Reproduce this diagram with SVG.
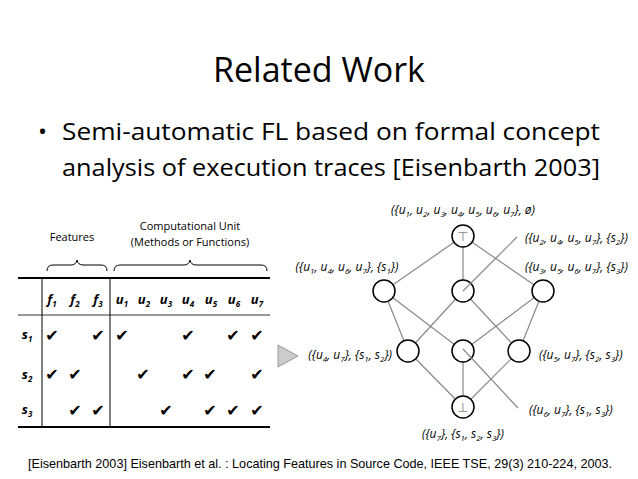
<svg xmlns="http://www.w3.org/2000/svg" width="638" height="479" viewBox="0 0 638 479">
<style>
text{font-family:"Open Sans","DejaVu Sans",sans-serif;fill:#000}
.t{font-size:12px;font-style:italic}
.h{font-size:13px;font-style:italic;font-weight:bold;text-anchor:middle}
.c{font-size:16px;text-anchor:middle}
.e{stroke:#888;stroke-width:1.2;fill:none}
.n{fill:#fff;stroke:#000;stroke-width:1.5}
.s{font-size:11px}
</style>
<rect width="638" height="479" fill="#fff"/>
<text x="319" y="82" font-size="34" text-anchor="middle">Related Work</text>
<text x="38" y="140" font-size="24">•</text>
<text x="62" y="140" font-size="24" textLength="538" lengthAdjust="spacingAndGlyphs">Semi-automatic FL based on formal concept</text>
<text x="62" y="176" font-size="24" textLength="538" lengthAdjust="spacingAndGlyphs">analysis of execution traces [Eisenbarth 2003]</text>
<g id="table">
<text x="72" y="241" class="s" text-anchor="middle">Features</text>
<text x="190" y="230" class="s" text-anchor="middle">Computational Unit</text>
<text x="190" y="246" class="s" text-anchor="middle">(Methods or Functions)</text>
<path d="M47,271 Q47,265 53,265 L71,265 Q76,265 77,260 Q78,265 83,265 L101,265 Q107,265 107,271" fill="none" stroke="#000"/>
<path d="M114,271 Q114,265 120,265 L184,265 Q189,265 190,260 Q191,265 196,265 L261,265 Q267,265 267,271" fill="none" stroke="#000"/>
<line x1="18" y1="278" x2="270" y2="278" stroke="#000" stroke-width="2"/>
<line x1="18" y1="315" x2="270" y2="315" stroke="#000" stroke-width="0.8"/>
<line x1="18" y1="427" x2="270" y2="427" stroke="#000" stroke-width="2"/>
<line x1="42" y1="278" x2="42" y2="427" stroke="#000" stroke-width="1"/>
<line x1="110" y1="278" x2="110" y2="427" stroke="#000" stroke-width="1"/>
<g class="h">
<text x="52" y="304">f<tspan font-size="8" dy="3">1</tspan></text>
<text x="75" y="304">f<tspan font-size="8" dy="3">2</tspan></text>
<text x="98" y="304">f<tspan font-size="8" dy="3">3</tspan></text>
<text x="122" y="304">u<tspan font-size="8" dy="3">1</tspan></text>
<text x="144" y="304">u<tspan font-size="8" dy="3">2</tspan></text>
<text x="166" y="304">u<tspan font-size="8" dy="3">3</tspan></text>
<text x="188" y="304">u<tspan font-size="8" dy="3">4</tspan></text>
<text x="211" y="304">u<tspan font-size="8" dy="3">5</tspan></text>
<text x="234" y="304">u<tspan font-size="8" dy="3">6</tspan></text>
<text x="257" y="304">u<tspan font-size="8" dy="3">7</tspan></text>
<text x="27" y="339">s<tspan font-size="8" dy="3">1</tspan></text>
<text x="27" y="379">s<tspan font-size="8" dy="3">2</tspan></text>
<text x="27" y="414">s<tspan font-size="8" dy="3">3</tspan></text>
</g>
<g class="c">
<text x="52" y="341">✔</text><text x="98" y="341">✔</text><text x="122" y="341">✔</text><text x="188" y="341">✔</text><text x="233" y="341">✔</text><text x="257" y="341">✔</text>
<text x="52" y="380">✔</text><text x="75" y="380">✔</text><text x="143" y="380">✔</text><text x="188" y="380">✔</text><text x="210" y="380">✔</text><text x="257" y="380">✔</text>
<text x="75" y="416">✔</text><text x="98" y="416">✔</text><text x="166" y="416">✔</text><text x="210" y="416">✔</text><text x="233" y="416">✔</text><text x="257" y="416">✔</text>
</g>
</g>
<polygon points="278,345 298,356 278,367" fill="#ccc" stroke="#999"/>
<g id="edges">
<line class="e" x1="463" y1="236" x2="384" y2="291"/>
<line class="e" x1="463" y1="236" x2="463" y2="291"/>
<line class="e" x1="463" y1="236" x2="543" y2="291"/>
<line class="e" x1="384" y1="291" x2="408" y2="351"/>
<line class="e" x1="384" y1="291" x2="463" y2="351"/>
<line class="e" x1="463" y1="291" x2="408" y2="351"/>
<line class="e" x1="463" y1="291" x2="519" y2="351"/>
<line class="e" x1="543" y1="291" x2="463" y2="351"/>
<line class="e" x1="543" y1="291" x2="519" y2="351"/>
<line class="e" x1="408" y1="351" x2="463" y2="407"/>
<line class="e" x1="463" y1="351" x2="463" y2="407"/>
<line class="e" x1="519" y1="351" x2="463" y2="407"/>
</g>
<g id="nodes">
<g id="top"><circle class="n" cx="463" cy="236" r="11"/><text x="463" y="241" font-size="13" fill="#888" text-anchor="middle" style="fill:#888">⊤</text></g>
<g id="a"><circle class="n" cx="384" cy="291" r="11"/></g>
<g id="b"><circle class="n" cx="463" cy="291" r="11"/></g>
<g id="c"><circle class="n" cx="543" cy="291" r="11"/></g>
<g id="d"><circle class="n" cx="408" cy="351" r="11"/></g>
<g id="e"><circle class="n" cx="463" cy="351" r="11"/></g>
<g id="f"><circle class="n" cx="519" cy="351" r="11"/></g>
<g id="bot"><circle class="n" cx="463" cy="407" r="11"/><text x="463" y="412" font-size="13" text-anchor="middle" style="fill:#888">⊥</text></g>
</g>
<g id="pointers">
<line class="e" x1="463" y1="291" x2="517" y2="237"/>
<line class="e" x1="463" y1="349" x2="518" y2="408"/>
</g>
<g class="t">
<text x="463" y="214" text-anchor="middle">({u<tspan font-size="8" dy="3">1</tspan><tspan dy="-3">, u</tspan><tspan font-size="8" dy="3">2</tspan><tspan dy="-3">, u</tspan><tspan font-size="8" dy="3">3</tspan><tspan dy="-3">, u</tspan><tspan font-size="8" dy="3">4</tspan><tspan dy="-3">, u</tspan><tspan font-size="8" dy="3">5</tspan><tspan dy="-3">, u</tspan><tspan font-size="8" dy="3">6</tspan><tspan dy="-3">, u</tspan><tspan font-size="8" dy="3">7</tspan><tspan dy="-3">}, ø)</tspan></text>
<text x="525" y="242">({u<tspan font-size="8" dy="3">2</tspan><tspan dy="-3">, u</tspan><tspan font-size="8" dy="3">4</tspan><tspan dy="-3">, u</tspan><tspan font-size="8" dy="3">5</tspan><tspan dy="-3">, u</tspan><tspan font-size="8" dy="3">7</tspan><tspan dy="-3">}, {s</tspan><tspan font-size="8" dy="3">2</tspan><tspan dy="-3">})</tspan></text>
<text x="347" y="271" text-anchor="middle">({u<tspan font-size="8" dy="3">1</tspan><tspan dy="-3">, u</tspan><tspan font-size="8" dy="3">4</tspan><tspan dy="-3">, u</tspan><tspan font-size="8" dy="3">6</tspan><tspan dy="-3">, u</tspan><tspan font-size="8" dy="3">7</tspan><tspan dy="-3">}, {s</tspan><tspan font-size="8" dy="3">1</tspan><tspan dy="-3">})</tspan></text>
<text x="525" y="271">({u<tspan font-size="8" dy="3">3</tspan><tspan dy="-3">, u</tspan><tspan font-size="8" dy="3">5</tspan><tspan dy="-3">, u</tspan><tspan font-size="8" dy="3">6</tspan><tspan dy="-3">, u</tspan><tspan font-size="8" dy="3">7</tspan><tspan dy="-3">}, {s</tspan><tspan font-size="8" dy="3">3</tspan><tspan dy="-3">})</tspan></text>
<text x="392" y="359" text-anchor="end">({u<tspan font-size="8" dy="3">4</tspan><tspan dy="-3">, u</tspan><tspan font-size="8" dy="3">7</tspan><tspan dy="-3">}, {s</tspan><tspan font-size="8" dy="3">1</tspan><tspan dy="-3">, s</tspan><tspan font-size="8" dy="3">2</tspan><tspan dy="-3">})</tspan></text>
<text x="539" y="359">({u<tspan font-size="8" dy="3">5</tspan><tspan dy="-3">, u</tspan><tspan font-size="8" dy="3">7</tspan><tspan dy="-3">}, {s</tspan><tspan font-size="8" dy="3">2</tspan><tspan dy="-3">, s</tspan><tspan font-size="8" dy="3">3</tspan><tspan dy="-3">})</tspan></text>
<text x="529" y="414">({u<tspan font-size="8" dy="3">6</tspan><tspan dy="-3">, u</tspan><tspan font-size="8" dy="3">7</tspan><tspan dy="-3">}, {s</tspan><tspan font-size="8" dy="3">1</tspan><tspan dy="-3">, s</tspan><tspan font-size="8" dy="3">3</tspan><tspan dy="-3">})</tspan></text>
<text x="463" y="438" text-anchor="middle">({u<tspan font-size="8" dy="3">7</tspan><tspan dy="-3">}, {s</tspan><tspan font-size="8" dy="3">1</tspan><tspan dy="-3">, s</tspan><tspan font-size="8" dy="3">2</tspan><tspan dy="-3">, s</tspan><tspan font-size="8" dy="3">3</tspan><tspan dy="-3">})</tspan></text>
</g>
<text x="28" y="468" font-size="13" style="font-family:'Liberation Sans',sans-serif" textLength="584" lengthAdjust="spacingAndGlyphs">[Eisenbarth 2003] Eisenbarth et al. : Locating Features in Source Code,  IEEE TSE, 29(3) 210-224, 2003.</text>
</svg>
